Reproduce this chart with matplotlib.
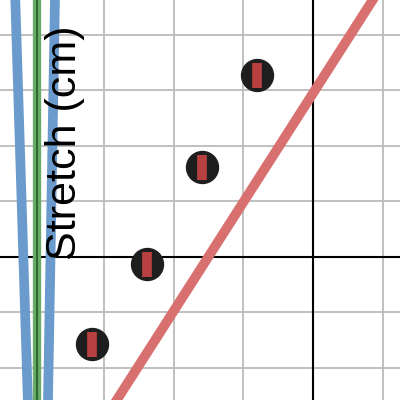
import matplotlib
matplotlib.use('Agg')
import matplotlib.pyplot as plt
import numpy as np

# data points (grid units)
pt_x = [-3.18, -2.39, -1.6, -0.81]
pt_y = [-1.57, -0.13, 1.62, 3.28]
# red fit line
line_slope = 1.96
line_icpt = 2.95
# blue V curves (x at bottom, x at top)
blue_left = [-4.10, -4.28]
blue_right = [-3.81, -3.71]
green_x = -3.97

xlim = (-4.5, 1.25)
ylim = (-2.58, 4.63)

fig = plt.figure(figsize=(4, 4), dpi=100)
ax = fig.add_axes([0, 0, 1, 1])
ax.set_xlim(xlim)
ax.set_ylim(ylim)

for gx in np.arange(-4, 2):
    ax.axvline(gx, color='#bbbbbb', lw=1.3, zorder=0)
for gy in np.arange(-2, 5):
    ax.axhline(gy, color='#bbbbbb', lw=1.3, zorder=0)
ax.axvline(0, color='black', lw=1.5, zorder=1)
ax.axhline(0, color='black', lw=1.5, zorder=1)

ax.plot(blue_left, ylim, color='#6a9bcc', lw=7, zorder=2)
ax.plot(blue_right, ylim, color='#6a9bcc', lw=7, zorder=2)
ax.axvline(green_x, color='#6aaa6a', lw=6, zorder=3)
ax.axvline(green_x, color='#2d6a2d', lw=1.5, zorder=3)

xs = np.array(xlim)
ax.plot(xs, line_slope * xs + line_icpt, color='#d97070', lw=7, zorder=3)

ax.plot(pt_x, pt_y, 'o', color='#1e1e1e', markersize=23, zorder=4)
ax.plot(pt_x, pt_y, '|', color='#b84040', markersize=18, markeredgewidth=7, zorder=5)

ax.text(-3.57, 2.05, 'Stretch (cm)', rotation=90, ha='center', va='center',
        fontsize=31, family='Liberation Sans', color='black', zorder=6)

ax.set_xticks([])
ax.set_yticks([])
for s in ax.spines.values():
    s.set_visible(False)

fig.savefig('out.png', dpi=100)
